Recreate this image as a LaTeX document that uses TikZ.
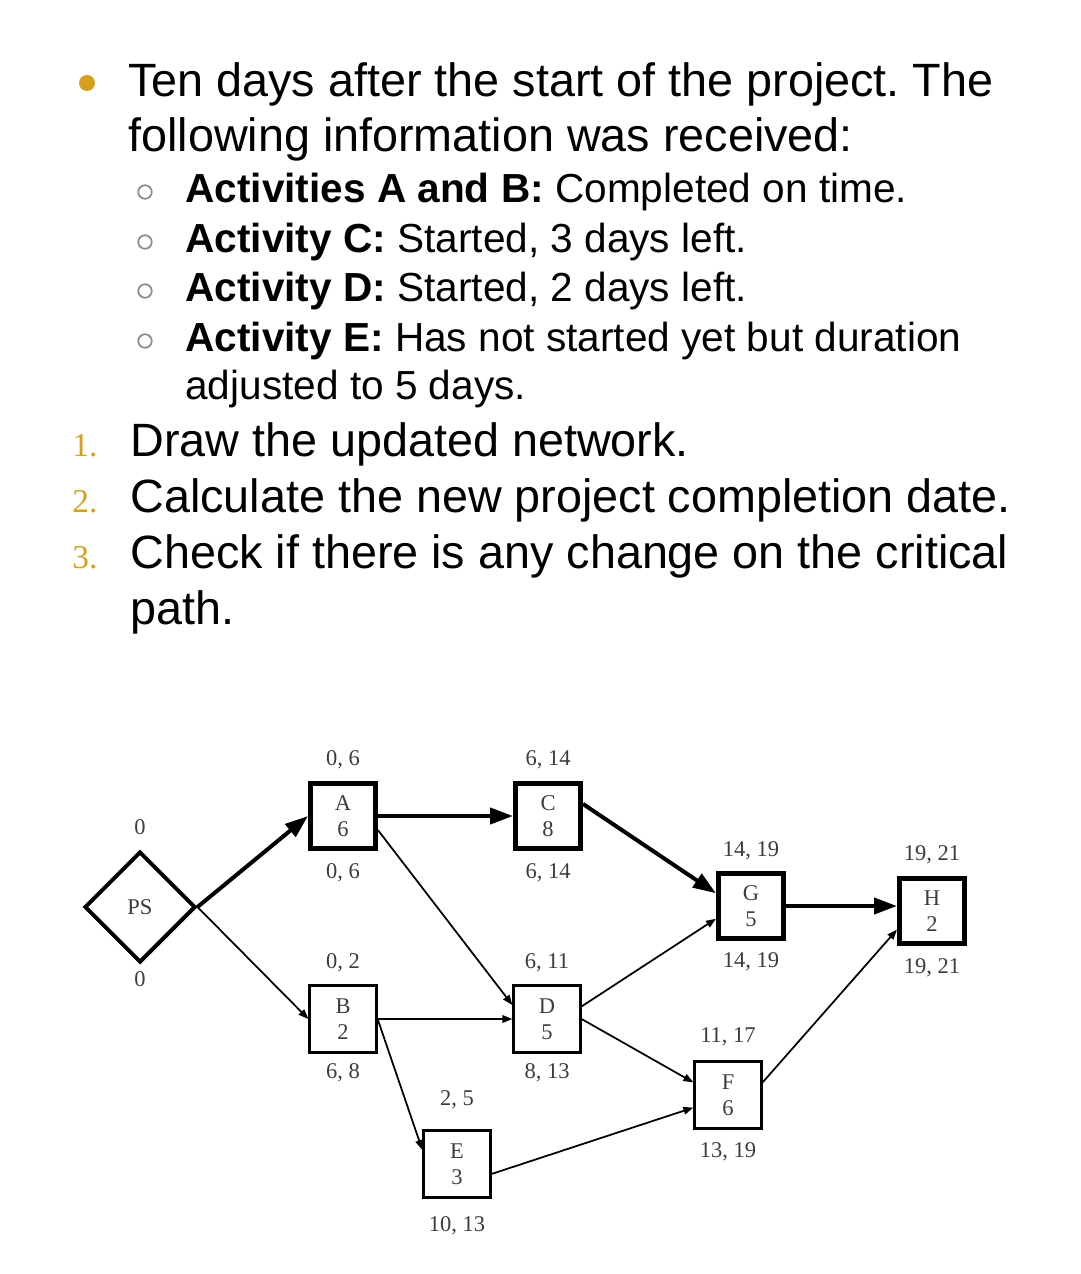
\documentclass[tikz,border=0pt]{standalone}
\usepackage{fontspec}
\setmainfont{Liberation Sans}
\newfontfamily\netfont{Liberation Serif}
\usetikzlibrary{shapes.geometric, arrows.meta, positioning}
\frenchspacing
\definecolor{bulletgold}{RGB}{214,160,28}
\definecolor{ringgray}{RGB}{140,140,140}
\definecolor{netgray}{RGB}{60,60,60}
\tikzset{
  bigline/.style={anchor=base west, inner sep=0pt,
    font=\fontsize{26.6}{32}\selectfont},
  subline/.style={anchor=base west, inner sep=0pt,
    font=\fontsize{23.1}{28}\selectfont},
  numlbl/.style={anchor=base west, inner sep=0pt, text=bulletgold,
    font=\netfont\fontsize{19}{22}\selectfont},
  dot/.style={circle, fill=bulletgold, inner sep=0pt, minimum size=0.32cm},
  ring/.style={circle, draw=ringgray, line width=0.035cm, inner sep=0pt,
    minimum size=0.27cm},
  act/.style={rectangle, draw, minimum size=1.34cm, inner sep=0pt,
    align=center, text=netgray, line width=0.045cm,
    font=\netfont\fontsize{12.8}{15}\selectfont},
  crit/.style={act, minimum size=1.3cm, line width=0.1cm},
  psnode/.style={diamond, draw, line width=0.08cm, inner sep=0pt,
    minimum width=2.22cm, minimum height=2.22cm, text=netgray,
    font=\netfont\fontsize{12.8}{15}\selectfont},
  tim/.style={inner sep=0pt, text=netgray,
    font=\netfont\fontsize{12.8}{15}\selectfont},
  arr/.style={-{Triangle[length=0.2cm, width=0.15cm]}, line width=0.035cm},
  carr/.style={-{Triangle[length=0.46cm, width=0.32cm]}, line width=0.08cm}
}
\begin{document}
\begin{tikzpicture}[x=0.02cm, y=-0.02cm]
  \fill[white] (0,0) rectangle (1080,1274);
  \useasboundingbox (0,0) rectangle (1080,1274);

  % question text
  \node[dot] (d1) at (87,83) {};
  \node[bigline] (l1) at (128,96) {Ten days after the start of the project. The};
  \node[bigline] (l2) at (128,152) {following information was received:};

  \node[ring] (r1) at (145,192) {};
  \node[subline] (s1) at (185,202) {\bfseries Activities A and B:\mdseries{} Completed on time.};
  \node[ring] (r2) at (145,242) {};
  \node[subline] (s2) at (185,252) {\bfseries Activity C:\mdseries{} Started, 3 days left.};
  \node[ring] (r3) at (145,291) {};
  \node[subline] (s3) at (185,301) {\bfseries Activity D:\mdseries{} Started, 2 days left.};
  \node[ring] (r4) at (145,341) {};
  \node[subline] (s4) at (185,351) {\bfseries Activity E:\mdseries{} Has not started yet but duration};
  \node[subline] (s5) at (185,399) {adjusted to 5 days.};

  \node[numlbl] (n1) at (72,456) {1.};
  \node[bigline] (q1) at (130,456) {Draw the updated network.};
  \node[numlbl] (n2) at (72,512) {2.};
  \node[bigline] (q2) at (130,512) {Calculate the new project completion date.};
  \node[numlbl] (n3) at (72,568) {3.};
  \node[bigline] (q3) at (130,568) {Check if there is any change on the critical};
  \node[bigline] (q4) at (130,624) {path.};

  % network
  \node[psnode] (PS) at (140,907) {PS};
  \node[crit] (A) at (343,816) {A\\6};
  \node[crit] (C) at (548,816) {C\\8};
  \node[crit] (G) at (751,906) {G\\5};
  \node[crit] (H) at (932,911) {H\\2};
  \node[act] (B) at (343,1019) {B\\2};
  \node[act] (D) at (547,1019) {D\\5};
  \node[act] (F) at (728,1095) {F\\6};
  \node[act] (E) at (457,1164) {E\\3};

  \node[tim, above=0.28cm of PS] (tPS) {0};
  \node[tim, below=0.14cm of PS] (bPS) {0};
  \node[tim, above=0.24cm of A] (tA) {0, 6};
  \node[tim, below=0.24cm of A] (bA) {0, 6};
  \node[tim, above=0.24cm of C] (tC) {6, 14};
  \node[tim, below=0.24cm of C] (bC) {6, 14};
  \node[tim, above=0.22cm of G] (tG) {14, 19};
  \node[tim, below=0.22cm of G] (bG) {14, 19};
  \node[tim, above=0.24cm of H] (tH) {19, 21};
  \node[tim, below=0.24cm of H] (bH) {19, 21};
  \node[tim, above=0.24cm of B] (tB) {0, 2};
  \node[tim, below=0.2cm of B] (bB) {6, 8};
  \node[tim, above=0.24cm of D] (tD) {6, 11};
  \node[tim, below=0.2cm of D] (bD) {8, 13};
  \node[tim, above=0.28cm of F] (tF) {11, 17};
  \node[tim, below=0.26cm of F] (bF) {13, 19};
  \node[tim, above=0.4cm of E] (tE) {2, 5};
  \node[tim, below=0.36cm of E] (bE) {10, 13};

  \draw[carr] (PS.east) -- (A.west);
  \draw[arr]  (PS.east) -- (B.west);
  \draw[carr] (A.east) -- (C.west);
  \draw[arr]  (A.-22) -- (D.158);
  \draw[carr] (C.19) -- (G.160);
  \draw[arr]  (B.east) -- (D.west);
  \draw[arr]  (B.east) -- (E.158);
  \draw[arr]  (D.20) -- (G.200);
  \draw[arr]  (D.east) -- (F.160);
  \draw[arr]  (E.-16) -- (F.200);
  \draw[arr]  (F.20) -- (H.208);
  \draw[carr] (G.east) -- (G.east -| H.west);
\end{tikzpicture}
\end{document}
